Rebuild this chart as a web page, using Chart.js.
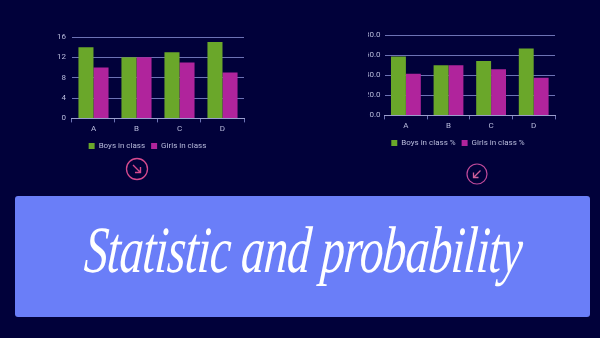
<!DOCTYPE html>
<html>
<head>
<meta charset="utf-8">
<script src="https://cdn.jsdelivr.net/npm/chart.js@4"></script>
<style>
  html, body { margin: 0; padding: 0; }
  body { width: 600px; height: 338px; background: #01013a; position: relative; overflow: hidden; font-family: Roboto, sans-serif; }
  .box { position: absolute; }
  #clip2 { position: absolute; left: 368px; top: 17px; width: 210px; height: 140px; overflow: hidden; }
  #wrap2 { position: absolute; left: -11px; top: 0; }
  .ring { position: absolute; }
  #banner { position: absolute; left: 15px; top: 196px; width: 575px; height: 121px; background: #6a7ef8; border-radius: 3px; }
  #title { position: absolute; left: 82px; top: 212px; color: #fff; font-family: "Liberation Serif", serif; font-style: italic; font-size: 66px; white-space: nowrap; transform-origin: 0 100%; letter-spacing: -1px; }
</style>
</head>
<body>
<div class="box" style="left:30px; top:20px;"><canvas id="chart1" width="230" height="140"></canvas></div>
<div id="clip2"><div id="wrap2"><canvas id="chart2" width="230" height="140"></canvas></div></div>

<svg class="ring" style="left:124px; top:156px;" width="26" height="26">
  <circle cx="13" cy="13" r="10.5" fill="none" stroke="#d64a8e" stroke-width="1.3"/>
  <path d="M9 9 L16.5 16.5 M16.5 11 L16.5 16.5 L11 16.5" fill="none" stroke="#d64a8e" stroke-width="1.4"/>
</svg>
<svg class="ring" style="left:464px; top:161px;" width="26" height="26">
  <circle cx="13" cy="13" r="10" fill="none" stroke="#c04a9a" stroke-width="1.2"/>
  <path d="M16.5 9.5 L9.5 16.5 M9.5 11.5 L9.5 16.5 L14.5 16.5" fill="none" stroke="#d0609a" stroke-width="1.3"/>
</svg>

<div id="banner"></div>
<div id="title">Statistic and probability</div>

<script>
const categories = ['A', 'B', 'C', 'D'];
const boys = [14, 12, 13, 15];
const girls = [10, 12, 11, 9];
const boysPct = [58.5, 50.0, 54.2, 66.5];
const girlsPct = [41.5, 50.0, 45.8, 37.5];
const ticks1 = [0, 4, 8, 12, 16];
const ticks2 = [0, 20, 40, 60, 80];

const GREEN = '#6aa72a';
const PINK = '#b0249c';
const GRID = '#6c72b4';
const TEXT = '#b9bcdc';

Chart.defaults.font.family = 'Roboto, sans-serif';
Chart.defaults.font.size = 8;
Chart.defaults.color = TEXT;

function makeChart(id, labelA, labelB, dataA, dataB, tickVals, fmt, pad, tickPad) {
  return new Chart(document.getElementById(id).getContext('2d'), {
    type: 'bar',
    data: {
      labels: categories,
      datasets: [
        { label: labelA, data: dataA, backgroundColor: GREEN, categoryPercentage: 0.7, barPercentage: 1.0 },
        { label: labelB, data: dataB, backgroundColor: PINK, categoryPercentage: 0.7, barPercentage: 1.0 }
      ]
    },
    options: {
      responsive: false,
      animation: false,
      layout: { padding: pad },
      plugins: {
        legend: {
          position: 'bottom',
          labels: { boxWidth: 6, boxHeight: 6, padding: 6, color: TEXT, font: { size: 8 } }
        },
        tooltip: { enabled: false }
      },
      scales: {
        x: {
          grid: { display: true, drawOnChartArea: false, drawTicks: true, tickLength: 4, color: GRID, offset: true },
          border: { display: true, color: '#9a9ecc', width: 1 },
          ticks: { color: TEXT, padding: 2 }
        },
        y: {
          min: tickVals[0],
          max: tickVals[tickVals.length - 1],
          afterBuildTicks: axis => { axis.ticks = tickVals.map(v => ({ value: v })); },
          grid: { color: GRID, drawTicks: false },
          border: { display: false },
          ticks: { color: TEXT, padding: tickPad, callback: fmt }
        }
      }
    }
  });
}

makeChart('chart1', 'Boys in class', 'Girls in class', boys, girls, ticks1,
  v => String(v), { left: 21, right: 16, top: 17, bottom: 0 }, 6);
makeChart('chart2', 'Boys in class %', 'Girls in class %', boysPct, girlsPct, ticks2,
  v => v.toFixed(1), { left: 4, right: 32, top: 18, bottom: 0 }, 4);

const t = document.getElementById('title');
const w = t.getBoundingClientRect().width;
t.style.transform = 'scaleX(' + (437 / w) + ') skewX(-6deg)';
</script>
</body>
</html>
